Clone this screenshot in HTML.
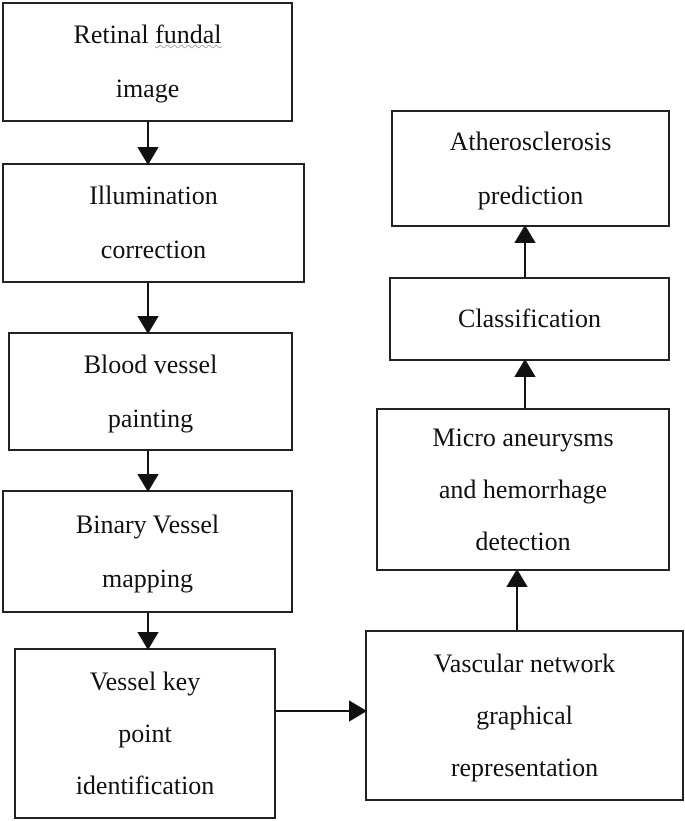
<!DOCTYPE html>
<html><head><style>
body{margin:0;width:685px;height:821px;background:#fff;position:relative;overflow:hidden;font-family:"Liberation Serif",serif;color:#111}
.b{position:absolute;border:2px solid #222;box-sizing:border-box;display:flex;flex-direction:column;justify-content:center;align-items:center;text-align:center;font-size:26px;line-height:54px}
.b>div{text-align:center}
svg{position:absolute;left:0;top:0}
</style></head><body>
<div class="b" style="left:2px;top:2px;width:291px;height:120px"><div>Retinal <span style="text-decoration:underline wavy #aaa;text-decoration-thickness:1px">fundal</span><br>image</div></div>
<div class="b" style="left:2px;top:163px;width:303px;height:120px"><div>Illumination<br>correction</div></div>
<div class="b" style="left:8px;top:332px;width:285px;height:119px"><div>Blood vessel<br>painting</div></div>
<div class="b" style="left:2px;top:490px;width:291px;height:123px"><div>Binary Vessel<br>mapping</div></div>
<div class="b" style="left:14px;top:648px;width:262px;height:171px;line-height:52px"><div>Vessel key<br>point<br>identification</div></div>
<div class="b" style="left:365px;top:630px;width:319px;height:171px;line-height:52px"><div>Vascular network<br>graphical<br>representation</div></div>
<div class="b" style="left:376px;top:408px;width:294px;height:163px;line-height:52px"><div>Micro aneurysms<br>and hemorrhage<br>detection</div></div>
<div class="b" style="left:389px;top:277px;width:281px;height:84px"><div>Classification</div></div>
<div class="b" style="left:391px;top:110px;width:279px;height:117px"><div>Atherosclerosis<br>prediction</div></div>
<svg width="685" height="821">
<g stroke="#111" stroke-width="2" fill="#111">
<line x1="148" y1="122" x2="148" y2="150"/><polygon points="139,148 157,148 148,163"/>
<line x1="148" y1="283" x2="148" y2="319"/><polygon points="139,317 157,317 148,332"/>
<line x1="148" y1="451" x2="148" y2="477"/><polygon points="139,475 157,475 148,490"/>
<line x1="148" y1="613" x2="148" y2="635"/><polygon points="139,633 157,633 148,648"/>
<line x1="276" y1="711" x2="352" y2="711"/><polygon points="350,702 350,720 365,711"/>
<line x1="517" y1="630" x2="517" y2="584"/><polygon points="508,586 526,586 517,571"/>
<line x1="525" y1="408" x2="525" y2="374"/><polygon points="516,376 534,376 525,361"/>
<line x1="525" y1="277" x2="525" y2="240"/><polygon points="516,242 534,242 525,227"/>
</g></svg>
</body></html>
